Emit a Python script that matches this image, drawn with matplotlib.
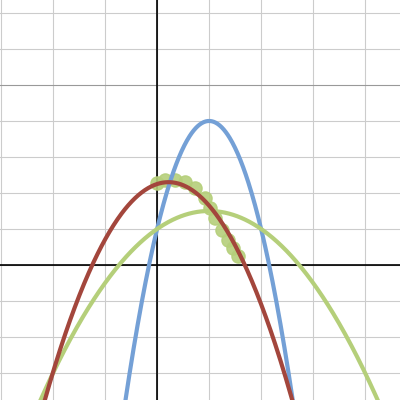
import numpy as np
import matplotlib.pyplot as plt

# sampled points (green dots)
pts_x = [0.0, 0.15, 0.35, 0.54, 0.73, 0.92, 1.02, 1.12, 1.25, 1.37, 1.46, 1.56]
pts_y = [2.28, 2.36, 2.36, 2.31, 2.14, 1.86, 1.58, 1.31, 0.97, 0.69, 0.47, 0.25]

# parabolas y = -a (x - h)^2 + k
curves = [
    # a,    h,    k,   colour
    (3.0,  1.0,  4.0, "#74a0d6"),
    (0.5,  1.0,  1.5, "#b5cf7a"),
    (1.07, 0.22, 2.3, "#a3463c"),
]

x0, x1 = -3.02, 4.67
y0, y1 = -3.75, 7.36

fig = plt.figure(figsize=(4, 4), dpi=100)
ax = fig.add_axes([0, 0, 1, 1])
ax.set_xlim(x0, x1)
ax.set_ylim(y0, y1)
ax.axis("off")

# grid
for gx in range(-3, 5):
    ax.axvline(gx, color="#cccccc" if gx % 5 else "#999999", lw=0.8, zorder=0)
for gy in range(-3, 8):
    ax.axhline(gy, color="#cccccc" if gy % 5 else "#999999", lw=0.8, zorder=0)
ax.axhline(0, color="black", lw=1.2, zorder=1)
ax.axvline(0, color="black", lw=1.2, zorder=1)

xs = np.linspace(x0, x1, 600)
ax.scatter(pts_x, pts_y, s=90, color="#b5cf7a", alpha=0.9, zorder=2)
for a, h, k, c in curves:
    ax.plot(xs, -a * (xs - h) ** 2 + k, color=c, lw=3, zorder=3)

fig.savefig("out.png", dpi=100)
